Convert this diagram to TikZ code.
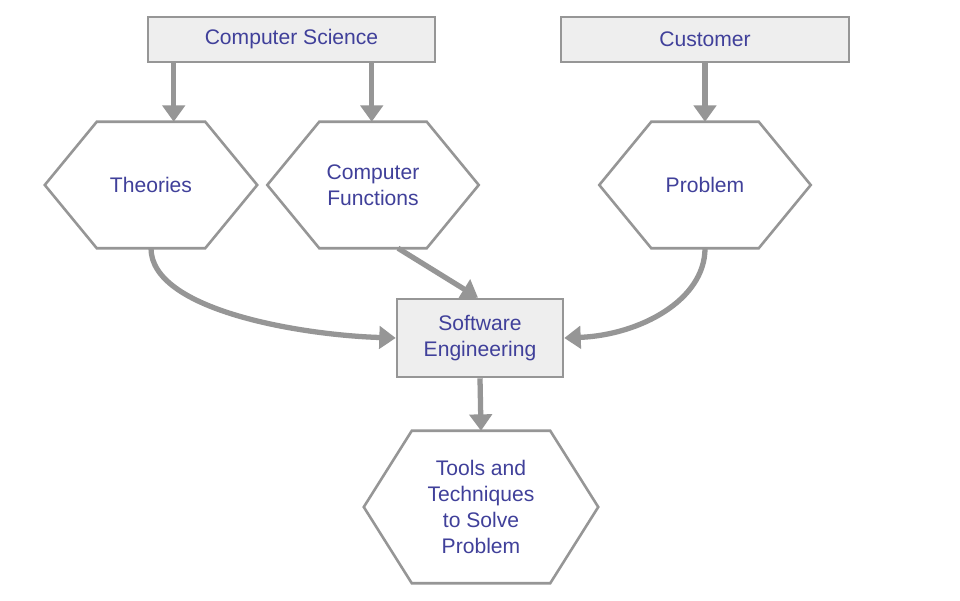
\documentclass[tikz,border=0pt]{standalone}
\usepackage{fontspec}
\setmainfont{Liberation Sans}
\usetikzlibrary{arrows.meta,calc}
\definecolor{bd}{HTML}{969696}
\definecolor{tx}{HTML}{40409A}
\definecolor{fl}{HTML}{EEEEEE}
\tikzset{
 box/.style={draw=bd,fill=fl,line width=2.2pt,text=tx,font=\fontsize{18}{22}\selectfont,align=center,inner sep=0pt},
 hx/.style={text=tx,font=\fontsize{18}{22}\selectfont,align=center,inner sep=0pt},
 hexline/.style={draw=bd,line width=2.2pt,line join=miter},
 arr/.style={draw=bd,line width=4.5pt,-{Triangle[length=14pt,width=19pt]}}
}
\newcommand{\hexa}[2]{\draw[hexline] (#1.west) -- ($(#1.north west)+(#2,0)$) -- ($(#1.north east)+(-#2,0)$) -- (#1.east) -- ($(#1.south east)+(-#2,0)$) -- ($(#1.south west)+(#2,0)$) -- cycle;}
\begin{document}
\begin{tikzpicture}[x=0.03cm,y=-0.03cm]
\useasboundingbox[fill=white] (0,0) rectangle (960,601);
\node[box,minimum width=287*0.03cm,minimum height=45*0.03cm] (cs) at (291.5,39.5) {Computer Science};
\node[box,minimum width=288*0.03cm,minimum height=45*0.03cm] (cu) at (705,39.5) {Customer};
\node[hx,minimum width=212*0.03cm,minimum height=126*0.03cm] (th) at (151,185) {Theories};
\node[hx,minimum width=211*0.03cm,minimum height=126*0.03cm] (cf) at (373,185) {Computer\\Functions};
\node[hx,minimum width=211*0.03cm,minimum height=126*0.03cm] (pr) at (705,185) {Problem};
\node[box,minimum width=166*0.03cm,minimum height=78*0.03cm] (se) at (480,338) {Software\\Engineering};
\node[hx,minimum width=234*0.03cm,minimum height=152*0.03cm] (tt) at (481,507) {Tools and\\Techniques\\to Solve\\Problem};
\hexa{th}{52}\hexa{cf}{52}\hexa{pr}{52}\hexa{tt}{48}
\coordinate (a1) at ($(cs.south west)+(27,0)$);
\coordinate (a2) at ($(cs.south west)+(225,0)$);
\draw[arr] (a1) -- (a1|-th.north);
\draw[arr] (a2) -- (a2|-cf.north);
\draw[arr] (cu.south) -- (pr.north);
\draw[arr] ($(cf.south)+(25,0)$) -- ($(se.north)+(-2,0)$);
\draw[arr] (th.south) .. controls (151,310) and (300,335) .. (se.west);
\draw[arr] (pr.south) .. controls (705,300) and (640,335) .. (se.east);
\draw[arr] (se.south) -- (tt.north);
\end{tikzpicture}
\end{document}
